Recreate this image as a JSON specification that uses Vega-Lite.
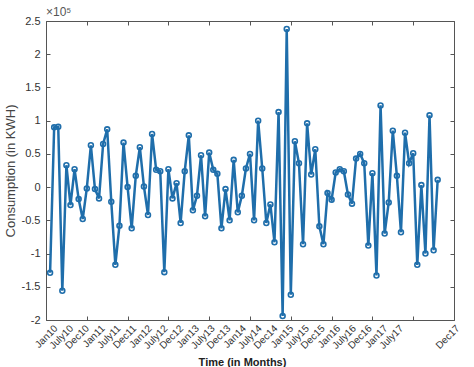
{
  "$schema": "https://vega.github.io/schema/vega-lite/v6.json",
  "width": 408,
  "height": 299,
  "autosize": {"type": "none"},
  "padding": {"left": 46, "top": 21, "right": 20, "bottom": 47},
  "background": "white",
  "config": {
    "view": {"stroke": "#555555", "strokeWidth": 1},
    "font": "Liberation Sans",
    "axis": {"grid": false}
  },
  "title": {
    "text": "×10⁵",
    "anchor": "start",
    "frame": "group",
    "fontSize": 12,
    "fontWeight": "normal",
    "color": "#555555",
    "offset": -4
  },
  "data": {
    "values": [
      {"month": 1, "consumption": -129000},
      {"month": 2, "consumption": 90000},
      {"month": 3, "consumption": 91000},
      {"month": 4, "consumption": -156000},
      {"month": 5, "consumption": 33000},
      {"month": 6, "consumption": -27000},
      {"month": 7, "consumption": 27000},
      {"month": 8, "consumption": -18000},
      {"month": 9, "consumption": -48000},
      {"month": 10, "consumption": -2000},
      {"month": 11, "consumption": 63000},
      {"month": 12, "consumption": -3000},
      {"month": 13, "consumption": -17000},
      {"month": 14, "consumption": 65000},
      {"month": 15, "consumption": 87000},
      {"month": 16, "consumption": -22000},
      {"month": 17, "consumption": -117000},
      {"month": 18, "consumption": -58000},
      {"month": 19, "consumption": 67000},
      {"month": 20, "consumption": 0},
      {"month": 21, "consumption": -62000},
      {"month": 22, "consumption": 17000},
      {"month": 23, "consumption": 60000},
      {"month": 24, "consumption": 1000},
      {"month": 25, "consumption": -42000},
      {"month": 26, "consumption": 80000},
      {"month": 27, "consumption": 26000},
      {"month": 28, "consumption": 24000},
      {"month": 29, "consumption": -128000},
      {"month": 30, "consumption": 27000},
      {"month": 31, "consumption": -17000},
      {"month": 32, "consumption": 6000},
      {"month": 33, "consumption": -54000},
      {"month": 34, "consumption": 24000},
      {"month": 35, "consumption": 78000},
      {"month": 36, "consumption": -35000},
      {"month": 37, "consumption": -13000},
      {"month": 38, "consumption": 48000},
      {"month": 39, "consumption": -44000},
      {"month": 40, "consumption": 52000},
      {"month": 41, "consumption": 26000},
      {"month": 42, "consumption": 20000},
      {"month": 43, "consumption": -62000},
      {"month": 44, "consumption": -3000},
      {"month": 45, "consumption": -50000},
      {"month": 46, "consumption": 41000},
      {"month": 47, "consumption": -38000},
      {"month": 48, "consumption": -13000},
      {"month": 49, "consumption": 28000},
      {"month": 50, "consumption": 50000},
      {"month": 51, "consumption": -50000},
      {"month": 52, "consumption": 100000},
      {"month": 53, "consumption": 28000},
      {"month": 54, "consumption": -54000},
      {"month": 55, "consumption": -26000},
      {"month": 56, "consumption": -83000},
      {"month": 57, "consumption": 113000},
      {"month": 58, "consumption": -194000},
      {"month": 59, "consumption": 238000},
      {"month": 60, "consumption": -162000},
      {"month": 61, "consumption": 69000},
      {"month": 62, "consumption": 36000},
      {"month": 63, "consumption": -86000},
      {"month": 64, "consumption": 96000},
      {"month": 65, "consumption": 19000},
      {"month": 66, "consumption": 57000},
      {"month": 67, "consumption": -59000},
      {"month": 68, "consumption": -86000},
      {"month": 69, "consumption": -9000},
      {"month": 70, "consumption": -19000},
      {"month": 71, "consumption": 22000},
      {"month": 72, "consumption": 27000},
      {"month": 73, "consumption": 24000},
      {"month": 74, "consumption": -11000},
      {"month": 75, "consumption": -25000},
      {"month": 76, "consumption": 43000},
      {"month": 77, "consumption": 50000},
      {"month": 78, "consumption": 36000},
      {"month": 79, "consumption": -88000},
      {"month": 80, "consumption": 21000},
      {"month": 81, "consumption": -133000},
      {"month": 82, "consumption": 123000},
      {"month": 83, "consumption": -70000},
      {"month": 84, "consumption": -23000},
      {"month": 85, "consumption": 85000},
      {"month": 86, "consumption": 17000},
      {"month": 87, "consumption": -68000},
      {"month": 88, "consumption": 82000},
      {"month": 89, "consumption": 36000},
      {"month": 90, "consumption": 51000},
      {"month": 91, "consumption": -117000},
      {"month": 92, "consumption": 3000},
      {"month": 93, "consumption": -100000},
      {"month": 94, "consumption": 108000},
      {"month": 95, "consumption": -95000},
      {"month": 96, "consumption": 11000}
    ]
  },
  "layer": [
    {
      "mark": {"type": "line", "color": "#1f6eab", "strokeWidth": 2.5},
      "encoding": {
        "x": {
          "field": "month",
          "type": "quantitative",
          "scale": {"domain": [0, 100], "nice": false, "zero": false},
          "axis": {
            "orient": "bottom",
            "values": [1.5, 5.35, 9.2, 13.05, 16.9, 20.75, 24.6, 28.45, 32.3, 36.15, 40, 43.85, 47.7, 51.55, 55.4, 59.25, 63.1, 66.95, 70.8, 74.65, 78.5, 82.35, 86.2, 100],
            "labelExpr": "['Jan10','July10','Dec10','Jan11','July11','Dec11','Jan12','July12','Dec12','Jan13','July13','Dec13','Jan14','July14','Dec14','Jan15','July15','Dec15','Jan16','July16','Dec16','Jan17','July17','Dec17'][indexof([1.5,5.35,9.2,13.05,16.9,20.75,24.6,28.45,32.3,36.15,40,43.85,47.7,51.55,55.4,59.25,63.1,66.95,70.8,74.65,78.5,82.35,86.2,100], datum.value)]",
            "labelAngle": -45,
            "labelAlign": "right",
            "labelBaseline": "top",
            "labelFontSize": 10,
            "labelColor": "#333333",
            "labelPadding": 3,
            "labelOverlap": false,
            "labelFlush": false,
            "labelBound": false,
            "ticks": false,
            "domain": false,
            "title": "Time (in Months)",
            "titleFontSize": 11,
            "titleFontWeight": "bold",
            "titleColor": "#222222",
            "titleX": 196,
            "titleY": 45,
            "titleBaseline": "alphabetic",
            "titleAlign": "center"
          }
        },
        "y": {
          "field": "consumption",
          "type": "quantitative",
          "scale": {"domain": [-200000, 250000], "nice": false, "zero": false},
          "axis": {
            "orient": "left",
            "values": [-200000, -150000, -100000, -50000, 0, 50000, 100000, 150000, 200000, 250000],
            "labelExpr": "'' + (datum.value / 100000)",
            "labelFontSize": 11,
            "labelColor": "#333333",
            "labelPadding": 6,
            "labelFlush": false,
            "labelOverlap": false,
            "ticks": false,
            "domain": false,
            "title": "Consumption (in KWH)",
            "titleFontSize": 13,
            "titleFontWeight": "normal",
            "titleColor": "#444444",
            "titleX": -32,
            "titleY": 149.5,
            "titleAngle": -90,
            "titleAlign": "center",
            "titleBaseline": "alphabetic"
          }
        }
      }
    },
    {
      "mark": {"type": "point", "filled": false, "color": "#1f6eab", "strokeWidth": 1.6, "size": 24, "opacity": 1},
      "encoding": {
        "x": {
          "field": "month",
          "type": "quantitative",
          "axis": {
            "orient": "bottom",
            "values": [0, 10, 20, 30, 40, 50, 60, 70, 80, 90, 100],
            "labels": false,
            "domain": false,
            "ticks": true,
            "tickSize": -4,
            "tickColor": "#555555",
            "title": null
          }
        },
        "y": {
          "field": "consumption",
          "type": "quantitative",
          "axis": {
            "orient": "left",
            "values": [-200000, -150000, -100000, -50000, 0, 50000, 100000, 150000, 200000, 250000],
            "labels": false,
            "domain": false,
            "ticks": true,
            "tickSize": -4,
            "tickColor": "#555555",
            "title": null
          }
        }
      }
    },
    {
      "mark": {"type": "point", "opacity": 0},
      "encoding": {
        "x": {
          "field": "month",
          "type": "quantitative",
          "axis": {
            "orient": "top",
            "values": [0, 10, 20, 30, 40, 50, 60, 70, 80, 90, 100],
            "labels": false,
            "domain": false,
            "ticks": true,
            "tickSize": -4,
            "tickColor": "#555555",
            "title": null
          }
        },
        "y": {
          "field": "consumption",
          "type": "quantitative",
          "axis": {
            "orient": "right",
            "values": [-200000, -150000, -100000, -50000, 0, 50000, 100000, 150000, 200000, 250000],
            "labels": false,
            "domain": false,
            "ticks": true,
            "tickSize": -4,
            "tickColor": "#555555",
            "title": null
          }
        }
      }
    }
  ],
  "resolve": {"axis": {"x": "independent", "y": "independent"}}
}
